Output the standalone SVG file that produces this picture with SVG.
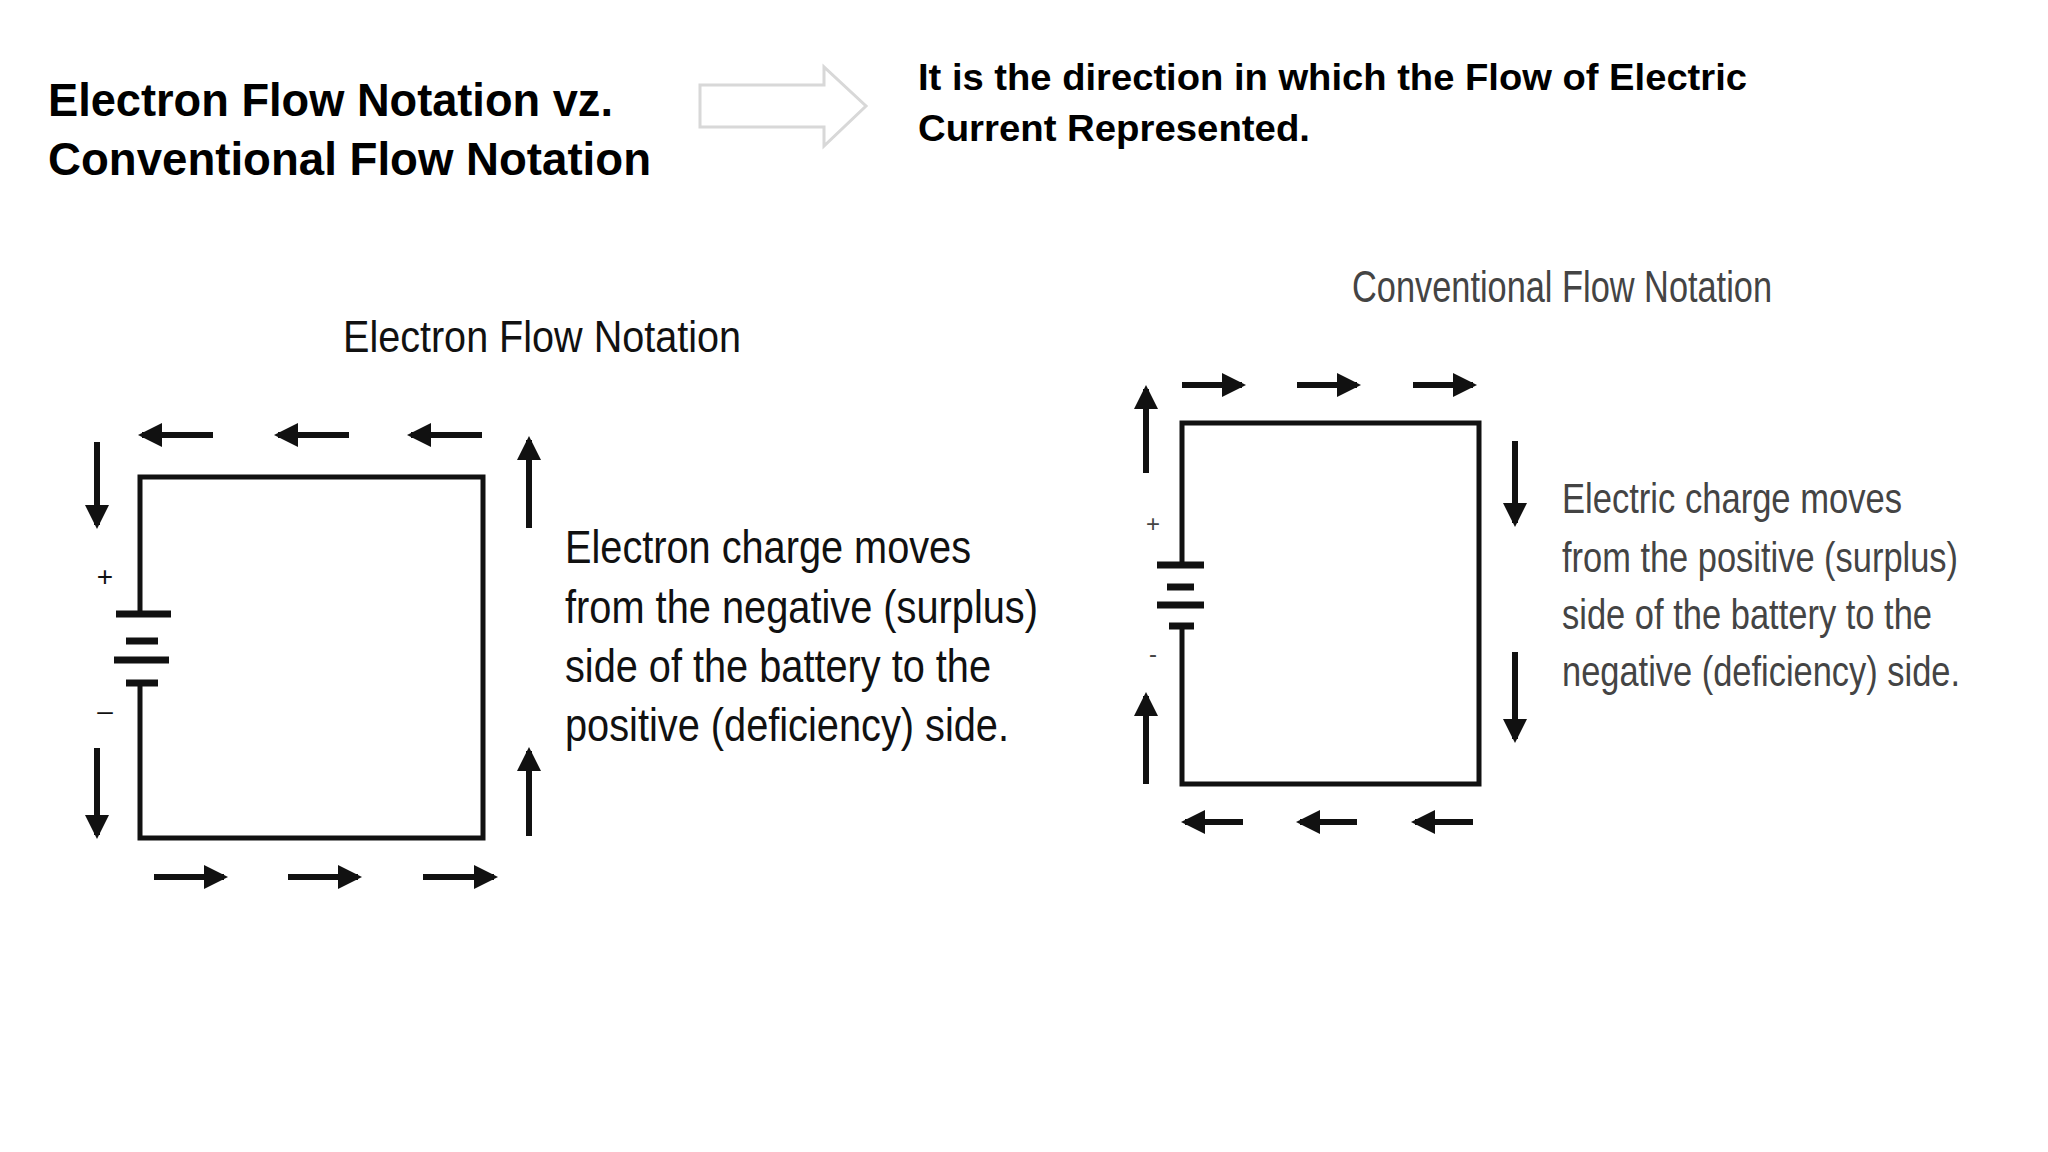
<svg xmlns="http://www.w3.org/2000/svg" width="2048" height="1152" viewBox="0 0 2048 1152">
<defs>
<style>
.w{stroke:#111;stroke-width:5;fill:none}
.a{stroke:#111;stroke-width:6;fill:none;marker-end:url(#ah)}
.p{stroke:#111;stroke-width:7}
.h{font-family:"Liberation Sans",Arial,sans-serif;font-weight:bold;fill:#000}
.t{font-family:"Liberation Sans",Arial,sans-serif;fill:#111}
.g{font-family:"Liberation Sans",Arial,sans-serif;fill:#444}
</style>
<marker id="ah" markerUnits="userSpaceOnUse" markerWidth="30" markerHeight="30" refX="20" refY="12" orient="auto">
<path d="M0,0 L24,12 L0,24 Z" fill="#111"/>
</marker>
</defs>
<rect width="2048" height="1152" fill="#fff"/>
<g id="header">
<text class="h" x="48" y="116" font-size="46" textLength="565" lengthAdjust="spacingAndGlyphs">Electron Flow Notation vz.</text>
<text class="h" x="48" y="175" font-size="46" textLength="603" lengthAdjust="spacingAndGlyphs">Conventional Flow Notation</text>
<path d="M700,85 H824 V67 L866,106 L824,146 V127 H700 Z" fill="#fff" stroke="#d8d8d8" stroke-width="3"/>
<text class="h" x="918" y="90" font-size="37" textLength="829" lengthAdjust="spacingAndGlyphs">It is the direction in which the Flow of Electric</text>
<text class="h" x="918" y="141" font-size="37" textLength="392" lengthAdjust="spacingAndGlyphs">Current Represented.</text>
</g>
<g id="electron">
<text class="t" x="343" y="352" font-size="44" textLength="398" lengthAdjust="spacingAndGlyphs">Electron Flow Notation</text>
<path class="w" d="M140,614 V477 H483 V838 H140 V683"/>
<line class="p" x1="116" y1="614" x2="171" y2="614"/>
<line class="p" x1="126" y1="641" x2="158" y2="641"/>
<line class="p" x1="114" y1="660" x2="169" y2="660"/>
<line class="p" x1="126" y1="683" x2="158" y2="683"/>
<text class="t" x="105" y="586" font-size="28" text-anchor="middle">+</text>
<text class="t" x="105" y="720" font-size="28" text-anchor="middle">–</text>
<text class="t" font-size="46">
<tspan x="565" y="563" textLength="406" lengthAdjust="spacingAndGlyphs">Electron charge moves</tspan>
<tspan x="565" y="623" textLength="473" lengthAdjust="spacingAndGlyphs">from the negative (surplus)</tspan>
<tspan x="565" y="682" textLength="426" lengthAdjust="spacingAndGlyphs">side of the battery to the</tspan>
<tspan x="565" y="741" textLength="444" lengthAdjust="spacingAndGlyphs">positive (deficiency) side.</tspan>
</text>
</g>
<g id="conventional">
<text class="g" x="1352" y="302" font-size="44" textLength="420" lengthAdjust="spacingAndGlyphs">Conventional Flow Notation</text>
<path class="w" d="M1182,565 V423 H1479 V784 H1182 V628"/>
<line class="p" x1="1157" y1="565" x2="1204" y2="565"/>
<line class="p" x1="1167" y1="587" x2="1194" y2="587"/>
<line class="p" x1="1157" y1="605" x2="1204" y2="605"/>
<line class="p" x1="1169" y1="626" x2="1194" y2="626"/>
<text class="g" x="1153" y="532" font-size="24" text-anchor="middle">+</text>
<text class="g" x="1153" y="662" font-size="24" text-anchor="middle">-</text>
<text class="g" font-size="42">
<tspan x="1562" y="513" textLength="340" lengthAdjust="spacingAndGlyphs">Electric charge moves</tspan>
<tspan x="1562" y="572" textLength="396" lengthAdjust="spacingAndGlyphs">from the positive (surplus)</tspan>
<tspan x="1562" y="629" textLength="370" lengthAdjust="spacingAndGlyphs">side of the battery to the</tspan>
<tspan x="1562" y="686" textLength="398" lengthAdjust="spacingAndGlyphs">negative (deficiency) side.</tspan>
</text>
</g>
<g id="connectors">
<line class="a" x1="213" y1="435" x2="142" y2="435"/>
<line class="a" x1="349" y1="435" x2="278" y2="435"/>
<line class="a" x1="482" y1="435" x2="411" y2="435"/>
<line class="a" x1="154" y1="877" x2="224" y2="877"/>
<line class="a" x1="288" y1="877" x2="358" y2="877"/>
<line class="a" x1="423" y1="877" x2="494" y2="877"/>
<line class="a" x1="97" y1="442" x2="97" y2="525"/>
<line class="a" x1="97" y1="748" x2="97" y2="835"/>
<line class="a" x1="529" y1="528" x2="529" y2="440"/>
<line class="a" x1="529" y1="836" x2="529" y2="751"/>
<line class="a" x1="1182" y1="385" x2="1242" y2="385"/>
<line class="a" x1="1297" y1="385" x2="1357" y2="385"/>
<line class="a" x1="1413" y1="385" x2="1473" y2="385"/>
<line class="a" x1="1243" y1="822" x2="1185" y2="822"/>
<line class="a" x1="1357" y1="822" x2="1300" y2="822"/>
<line class="a" x1="1473" y1="822" x2="1415" y2="822"/>
<line class="a" x1="1146" y1="473" x2="1146" y2="389"/>
<line class="a" x1="1146" y1="784" x2="1146" y2="696"/>
<line class="a" x1="1515" y1="441" x2="1515" y2="523"/>
<line class="a" x1="1515" y1="652" x2="1515" y2="739"/>
</g>
</svg>
